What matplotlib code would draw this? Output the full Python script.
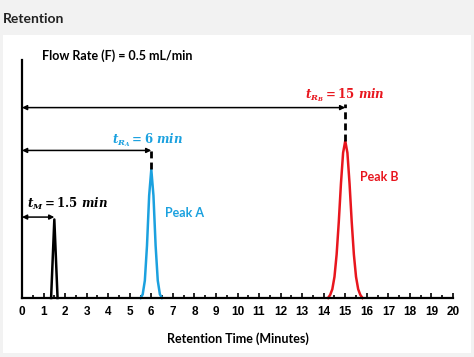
import matplotlib
matplotlib.use("Agg")
import matplotlib.pyplot as plt
from matplotlib.patches import Rectangle
from matplotlib.ticker import MultipleLocator

# peak shapes (x in minutes, y in % of axis height)
tm_x = [1.35, 1.5, 1.65]
tm_y = [0, 33, 0]
pa_x = [5.5, 5.6, 5.7, 5.8, 5.9, 6.0, 6.1, 6.2, 6.3, 6.4, 6.5]
pa_y = [0, 1.5, 7.3, 22, 43, 54, 43, 22, 7.3, 1.5, 0]
pb_x = [14.2, 14.3, 14.4, 14.5, 14.6, 14.7, 14.8, 14.9, 15.0,
        15.1, 15.2, 15.3, 15.4, 15.5, 15.6, 15.7, 15.8]
pb_y = [0, 1.3, 3.7, 8.9, 18.3, 32, 48, 61, 66,
        61, 48, 32, 18.3, 8.9, 3.7, 1.3, 0]

# retention markers: time, arrow height, dashed line top
t_m, t_ra, t_rb = 1.5, 6, 15
arrow_y = {"tm": 34, "ra": 62, "rb": 80}
dash_top = {"ra": 63.5, "rb": 81.5}

BLUE = "#1ba1df"
RED = "#e8161e"
SANS = ["Lato", "DejaVu Sans"]

plt.rcParams["mathtext.fontset"] = "custom"
plt.rcParams["mathtext.rm"] = "DejaVu Serif:bold"
plt.rcParams["mathtext.bf"] = "DejaVu Serif:bold"
plt.rcParams["mathtext.it"] = "DejaVu Serif:italic:bold"

fig = plt.figure(figsize=(4.74, 3.57), dpi=100, facecolor="#f2f2f2")
# white panel under the header band
fig.patches.append(Rectangle((3 / 474, 4 / 357), 468 / 474, 318 / 357,
                             transform=fig.transFigure, facecolor="white",
                             edgecolor="none", zorder=-10))
fig.text(3 / 474, 1 - 19 / 357, "Retention", fontsize=10, fontweight="bold",
         family=SANS, va="center", ha="left", color="#222222")

ax = fig.add_axes([22 / 474, 1 - 298 / 357, 431 / 474, 238 / 357])
ax.set_facecolor("none")
ax.set_xlim(0, 20)
ax.set_ylim(0, 100)
for s in ("top", "right"):
    ax.spines[s].set_visible(False)
for s in ("left", "bottom"):
    ax.spines[s].set_linewidth(1.6)
ax.set_yticks([])
ax.xaxis.set_major_locator(MultipleLocator(1))
ax.xaxis.set_minor_locator(MultipleLocator(0.5))
ax.tick_params(axis="x", which="major", direction="in", length=3.5, width=1.2, pad=6)
ax.tick_params(axis="x", which="minor", direction="in", length=2.5, width=1.2)
for lab in ax.get_xticklabels():
    lab.set_fontfamily(["Liberation Sans", "DejaVu Sans"])
    lab.set_fontweight("bold")
    lab.set_fontsize(8.5)
ax.set_xlabel("Retention Time (Minutes)", fontsize=9, fontweight="bold",
              family=SANS, labelpad=10)

ax.plot(tm_x, tm_y, color="black", lw=1.8, clip_on=False)
ax.plot(pa_x, pa_y, color=BLUE, lw=1.8, clip_on=False)
ax.plot(pb_x, pb_y, color=RED, lw=1.8, clip_on=False)

arrow = dict(arrowstyle="<|-|>", color="black", lw=1.1, mutation_scale=7,
             shrinkA=0, shrinkB=0)
ax.annotate("", xy=(t_m, arrow_y["tm"]), xytext=(0, arrow_y["tm"]), arrowprops=arrow)
ax.annotate("", xy=(t_ra, arrow_y["ra"]), xytext=(0, arrow_y["ra"]), arrowprops=arrow)
ax.annotate("", xy=(t_rb, arrow_y["rb"]), xytext=(0, arrow_y["rb"]), arrowprops=arrow)
ax.plot([t_ra, t_ra], [max(pa_y), dash_top["ra"]], color="black", lw=2, ls=(0, (2.5, 1.5)))
ax.plot([t_rb, t_rb], [max(pb_y), dash_top["rb"]], color="black", lw=2, ls=(0, (2.5, 1.5)))

ax.text(2.13, 39.5, r"$t_{M} = 1.5\ min$", fontsize=8.5, ha="center", va="center",
        color="black")
ax.text(5.85, 66.5, r"$t_{R_{A}} = 6\ min$", fontsize=8.5, ha="center", va="center",
        color=BLUE)
ax.text(15.0, 85, r"$t_{R_{B}} = 15\ min$", fontsize=8.5, ha="center", va="center",
        color=RED)
ax.text(7.56, 35.7, "Peak A", fontsize=9, fontweight="bold", family=SANS,
        ha="center", va="center", color=BLUE)
ax.text(16.6, 51, "Peak B", fontsize=9, fontweight="bold", family=SANS,
        ha="center", va="center", color=RED)
ax.text(0.93, 102, "Flow Rate (F) = 0.5 mL/min", fontsize=9, fontweight="bold",
        family=SANS, ha="left", va="center", clip_on=False)

fig.savefig("out.png", dpi=100, facecolor=fig.get_facecolor())
